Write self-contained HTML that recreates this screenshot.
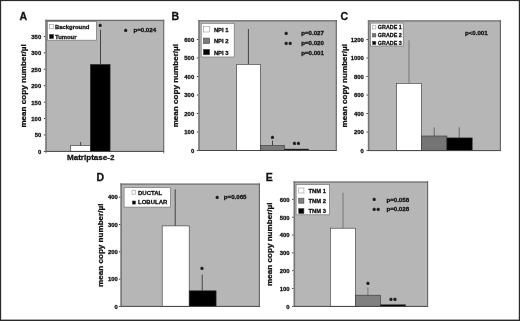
<!DOCTYPE html>
<html><head><meta charset="utf-8"><title>Figure</title>
<style>
html,body{margin:0;padding:0;background:#fff;}
svg{display:block;font-family:"Liberation Sans", sans-serif;fill:#111;}
text{stroke:#111;stroke-width:0.28px;}
</style></head><body>
<svg width="520" height="321" viewBox="0 0 520 321">
<rect x="0" y="0" width="520" height="321" fill="#fff"/>
<rect x="0" y="0" width="520" height="1.1" fill="#2a2a2a"/>
<rect x="0" y="0" width="1.15" height="321" fill="#2a2a2a"/>
<rect x="518.8" y="0" width="1.2" height="321" fill="#2a2a2a"/>
<rect x="0" y="319.6" width="520" height="1.4" fill="#2a2a2a"/>
<rect x="46" y="20.4" width="117.5" height="131.0" fill="#b6b6b6"/>
<rect x="45.2" y="19.75" width="119.05" height="1.3" fill="#6c6c6c"/>
<rect x="163.15" y="19.75" width="1.1" height="131.65" fill="#626262"/>
<rect x="45.2" y="19.75" width="1.6" height="131.65" fill="#747474"/>
<rect x="80.1" y="142" width="1" height="3.5999999999999943" fill="#444"/>
<rect x="70.7" y="145.6" width="19.599999999999994" height="5.800000000000011" fill="#fff" stroke="#333" stroke-width="0.6"/>
<rect x="100.0" y="29.7" width="1" height="34.7" fill="#444"/>
<rect x="90.3" y="64.4" width="19.799999999999997" height="87.0" fill="#000" stroke="#333" stroke-width="0.6"/>
<rect x="45.3" y="150.9" width="118.9" height="1" fill="#444"/>
<rect x="45.5" y="151.4" width="1" height="2" fill="#777"/>
<rect x="163.2" y="151.4" width="1" height="2" fill="#777"/>
<rect x="43.8" y="150.95000000000002" width="1.4" height="0.9" fill="#333"/>
<text x="41.2" y="153.924" font-size="5.9" text-anchor="end" font-weight="bold" >0</text>
<rect x="43.8" y="134.52" width="1.4" height="0.9" fill="#333"/>
<text x="41.2" y="137.494" font-size="5.9" text-anchor="end" font-weight="bold" >50</text>
<rect x="43.8" y="118.09" width="1.4" height="0.9" fill="#333"/>
<text x="41.2" y="121.06400000000001" font-size="5.9" text-anchor="end" font-weight="bold" >100</text>
<rect x="43.8" y="101.66000000000001" width="1.4" height="0.9" fill="#333"/>
<text x="41.2" y="104.63400000000001" font-size="5.9" text-anchor="end" font-weight="bold" >150</text>
<rect x="43.8" y="85.23" width="1.4" height="0.9" fill="#333"/>
<text x="41.2" y="88.20400000000001" font-size="5.9" text-anchor="end" font-weight="bold" >200</text>
<rect x="43.8" y="68.8" width="1.4" height="0.9" fill="#333"/>
<text x="41.2" y="71.774" font-size="5.9" text-anchor="end" font-weight="bold" >250</text>
<rect x="43.8" y="52.370000000000005" width="1.4" height="0.9" fill="#333"/>
<text x="41.2" y="55.34400000000001" font-size="5.9" text-anchor="end" font-weight="bold" >300</text>
<rect x="43.8" y="35.94" width="1.4" height="0.9" fill="#333"/>
<text x="41.2" y="38.914" font-size="5.9" text-anchor="end" font-weight="bold" >350</text>
<text transform="translate(25.599999999999998,85.9) rotate(-90)" font-size="8.1" text-anchor="middle" font-weight="bold">mean copy number/µl</text>
<text x="19.5" y="19.5" font-size="10.5" text-anchor="start" font-weight="bold" >A</text>
<rect x="47.4" y="21.6" width="49.00000000000001" height="18.6" fill="#fff" stroke="#747474" stroke-width="0.7"/>
<rect x="49.4" y="24.5" width="4.2" height="4.2" fill="#fff" stroke="#999" stroke-width="0.6"/>
<text x="55" y="28.6" font-size="5.9" text-anchor="start" font-weight="bold" >Background</text>
<rect x="49.4" y="34.4" width="4.2" height="4.2" fill="#000" stroke="#444" stroke-width="0.6"/>
<text x="55" y="38.6" font-size="5.9" text-anchor="start" font-weight="bold" >Tumour</text>
<text x="100.3" y="28.55" font-size="7.4" text-anchor="middle" font-weight="bold" style="stroke:#111;stroke-width:0.5px">*</text>
<text x="125.6" y="33.55" font-size="7.4" text-anchor="middle" font-weight="bold" style="stroke:#111;stroke-width:0.5px">*</text>
<text x="133.4" y="32.2" font-size="6.15" text-anchor="start" font-weight="bold">p=0.024</text>
<text x="90.7" y="160" font-size="8.05" text-anchor="middle" font-weight="bold" >Matriptase-2</text>
<rect x="199" y="20.8" width="137.10000000000002" height="129.7" fill="#b6b6b6"/>
<rect x="198.2" y="20.150000000000002" width="138.65000000000003" height="1.3" fill="#6c6c6c"/>
<rect x="335.75" y="20.150000000000002" width="1.1" height="130.35" fill="#626262"/>
<rect x="198.2" y="20.150000000000002" width="1.6" height="130.35" fill="#747474"/>
<rect x="247.9" y="29" width="1" height="35.5" fill="#444"/>
<rect x="236.7" y="64.5" width="23.69999999999999" height="86.0" fill="#fff" stroke="#333" stroke-width="0.6"/>
<rect x="272.0" y="140.6" width="1" height="4.900000000000006" fill="#444"/>
<rect x="260.4" y="145.5" width="24.100000000000023" height="5.0" fill="#7a7a7a" stroke="#333" stroke-width="0.6"/>
<rect x="284.5" y="149.1" width="24.100000000000023" height="1.4000000000000057" fill="#000" stroke="#333" stroke-width="0.6"/>
<rect x="198.3" y="150.0" width="138.50000000000003" height="1" fill="#444"/>
<rect x="196.8" y="150.05" width="1.4" height="0.9" fill="#333"/>
<text x="194.2" y="152.924" font-size="5.9" text-anchor="end" font-weight="bold" >0</text>
<rect x="196.8" y="131.55" width="1.4" height="0.9" fill="#333"/>
<text x="194.2" y="134.424" font-size="5.9" text-anchor="end" font-weight="bold" >100</text>
<rect x="196.8" y="113.05" width="1.4" height="0.9" fill="#333"/>
<text x="194.2" y="115.92399999999999" font-size="5.9" text-anchor="end" font-weight="bold" >200</text>
<rect x="196.8" y="94.55" width="1.4" height="0.9" fill="#333"/>
<text x="194.2" y="97.42399999999999" font-size="5.9" text-anchor="end" font-weight="bold" >300</text>
<rect x="196.8" y="76.05" width="1.4" height="0.9" fill="#333"/>
<text x="194.2" y="78.92399999999999" font-size="5.9" text-anchor="end" font-weight="bold" >400</text>
<rect x="196.8" y="57.55" width="1.4" height="0.9" fill="#333"/>
<text x="194.2" y="60.424" font-size="5.9" text-anchor="end" font-weight="bold" >500</text>
<rect x="196.8" y="39.05" width="1.4" height="0.9" fill="#333"/>
<text x="194.2" y="41.924" font-size="5.9" text-anchor="end" font-weight="bold" >600</text>
<text transform="translate(178.20000000000002,85.65) rotate(-90)" font-size="8.1" text-anchor="middle" font-weight="bold">mean copy number/µl</text>
<text x="171.5" y="19.6" font-size="10.5" text-anchor="start" font-weight="bold" >B</text>
<rect x="201.2" y="23.3" width="33.0" height="33.7" fill="#fff" stroke="#747474" stroke-width="0.7"/>
<rect x="203.4" y="26.6" width="6.2" height="5.4" fill="#fff" stroke="#999" stroke-width="0.6"/>
<text x="213.9" y="31.5" font-size="5.85" text-anchor="start" font-weight="bold" >NPI 1</text>
<rect x="203.4" y="38.1" width="6.2" height="5.4" fill="#7a7a7a" stroke="#444" stroke-width="0.6"/>
<text x="213.9" y="43.1" font-size="5.85" text-anchor="start" font-weight="bold" >NPI 2</text>
<rect x="203.4" y="49.4" width="6.2" height="5.4" fill="#000" stroke="#444" stroke-width="0.6"/>
<text x="213.9" y="54.6" font-size="5.85" text-anchor="start" font-weight="bold" >NPI 3</text>
<text x="272.5" y="140.75" font-size="7.4" text-anchor="middle" font-weight="bold" style="stroke:#111;stroke-width:0.5px">*</text>
<text x="294.4" y="147.35000000000002" font-size="7.4" text-anchor="middle" font-weight="bold" style="stroke:#111;stroke-width:0.5px">*</text><text x="298.4" y="147.35000000000002" font-size="7.4" text-anchor="middle" font-weight="bold" style="stroke:#111;stroke-width:0.5px">*</text>
<text x="286.25" y="37.05" font-size="7.4" text-anchor="middle" font-weight="bold" style="stroke:#111;stroke-width:0.5px">*</text>
<text x="286.25" y="46.949999999999996" font-size="7.4" text-anchor="middle" font-weight="bold" style="stroke:#111;stroke-width:0.5px">*</text><text x="290.25" y="46.949999999999996" font-size="7.4" text-anchor="middle" font-weight="bold" style="stroke:#111;stroke-width:0.5px">*</text>
<text x="301.2" y="35.3" font-size="6.15" text-anchor="start" font-weight="bold">p=0.027</text>
<text x="301.2" y="45.3" font-size="6.15" text-anchor="start" font-weight="bold">p=0.020</text>
<text x="301.2" y="55.3" font-size="6.15" text-anchor="start" font-weight="bold">p=0.001</text>
<rect x="368.6" y="20.9" width="131.59999999999997" height="129.7" fill="#b6b6b6"/>
<rect x="367.8" y="20.25" width="133.14999999999998" height="1.3" fill="#6c6c6c"/>
<rect x="499.84999999999997" y="20.25" width="1.1" height="130.35" fill="#626262"/>
<rect x="367.8" y="20.25" width="1.6" height="130.35" fill="#747474"/>
<rect x="408.5" y="40.3" width="1" height="43.0" fill="#777"/>
<rect x="396.6" y="83.3" width="24.69999999999999" height="67.3" fill="#fff" stroke="#333" stroke-width="0.6"/>
<rect x="433.7" y="127.3" width="1" height="8.700000000000003" fill="#666"/>
<rect x="421.3" y="136" width="25.599999999999966" height="14.599999999999994" fill="#757575" stroke="#333" stroke-width="0.6"/>
<rect x="458.7" y="127.3" width="1" height="10.600000000000009" fill="#666"/>
<rect x="446.9" y="137.9" width="25.30000000000001" height="12.699999999999989" fill="#000" stroke="#333" stroke-width="0.6"/>
<rect x="367.90000000000003" y="150.1" width="132.99999999999997" height="1" fill="#444"/>
<rect x="366.40000000000003" y="150.15" width="1.4" height="0.9" fill="#333"/>
<text x="363.8" y="152.92399999999998" font-size="5.9" text-anchor="end" font-weight="bold" >0</text>
<rect x="366.40000000000003" y="131.63" width="1.4" height="0.9" fill="#333"/>
<text x="363.8" y="134.40399999999997" font-size="5.9" text-anchor="end" font-weight="bold" >200</text>
<rect x="366.40000000000003" y="113.11" width="1.4" height="0.9" fill="#333"/>
<text x="363.8" y="115.884" font-size="5.9" text-anchor="end" font-weight="bold" >400</text>
<rect x="366.40000000000003" y="94.58999999999999" width="1.4" height="0.9" fill="#333"/>
<text x="363.8" y="97.36399999999999" font-size="5.9" text-anchor="end" font-weight="bold" >600</text>
<rect x="366.40000000000003" y="76.07" width="1.4" height="0.9" fill="#333"/>
<text x="363.8" y="78.844" font-size="5.9" text-anchor="end" font-weight="bold" >800</text>
<rect x="366.40000000000003" y="57.55" width="1.4" height="0.9" fill="#333"/>
<text x="363.8" y="60.324000000000005" font-size="5.9" text-anchor="end" font-weight="bold" >1000</text>
<rect x="366.40000000000003" y="39.02999999999999" width="1.4" height="0.9" fill="#333"/>
<text x="363.8" y="41.803999999999995" font-size="5.9" text-anchor="end" font-weight="bold" >1200</text>
<text transform="translate(347.09999999999997,85.75) rotate(-90)" font-size="8.1" text-anchor="middle" font-weight="bold">mean copy number/µl</text>
<text x="340.5" y="19.6" font-size="10.5" text-anchor="start" font-weight="bold" >C</text>
<rect x="370.5" y="23.1" width="32.69999999999999" height="22.9" fill="#fff" stroke="#747474" stroke-width="0.7"/>
<rect x="372.6" y="25.7" width="3.2" height="3.2" fill="#fff" stroke="#999" stroke-width="0.6"/>
<text x="377.8" y="29.1" font-size="5.4" text-anchor="start" font-weight="bold" >GRADE 1</text>
<rect x="372.6" y="33.7" width="3.2" height="3.2" fill="#7a7a7a" stroke="#444" stroke-width="0.6"/>
<text x="377.8" y="37.1" font-size="5.4" text-anchor="start" font-weight="bold" >GRADE 2</text>
<rect x="372.6" y="41.4" width="3.2" height="3.2" fill="#000" stroke="#444" stroke-width="0.6"/>
<text x="377.8" y="44.8" font-size="5.4" text-anchor="start" font-weight="bold" >GRADE 3</text>
<text x="465" y="34.6" font-size="6.15" text-anchor="start" font-weight="bold">p&lt;0.001</text>
<rect x="121.1" y="184.1" width="138.1" height="122.29999999999998" fill="#b6b6b6"/>
<rect x="120.3" y="183.45" width="139.65" height="1.3" fill="#6c6c6c"/>
<rect x="258.84999999999997" y="183.45" width="1.1" height="122.94999999999999" fill="#626262"/>
<rect x="120.3" y="183.45" width="1.6" height="122.94999999999999" fill="#747474"/>
<rect x="174.7" y="189.3" width="1" height="36.599999999999994" fill="#444"/>
<rect x="162.2" y="225.9" width="27.0" height="80.49999999999997" fill="#fff" stroke="#333" stroke-width="0.6"/>
<rect x="201.7" y="274.6" width="1" height="16.19999999999999" fill="#444"/>
<rect x="189.2" y="290.8" width="26.900000000000006" height="15.599999999999966" fill="#000" stroke="#333" stroke-width="0.6"/>
<rect x="120.39999999999999" y="305.9" width="139.5" height="1" fill="#444"/>
<rect x="118.89999999999999" y="305.95" width="1.4" height="0.9" fill="#333"/>
<text x="117.89999999999999" y="308.624" font-size="5.9" text-anchor="end" font-weight="bold" >0</text>
<rect x="118.89999999999999" y="278.65" width="1.4" height="0.9" fill="#333"/>
<text x="117.89999999999999" y="281.324" font-size="5.9" text-anchor="end" font-weight="bold" >100</text>
<rect x="118.89999999999999" y="251.35" width="1.4" height="0.9" fill="#333"/>
<text x="117.89999999999999" y="254.02399999999997" font-size="5.9" text-anchor="end" font-weight="bold" >200</text>
<rect x="118.89999999999999" y="224.04999999999998" width="1.4" height="0.9" fill="#333"/>
<text x="117.89999999999999" y="226.72399999999996" font-size="5.9" text-anchor="end" font-weight="bold" >300</text>
<rect x="118.89999999999999" y="196.75" width="1.4" height="0.9" fill="#333"/>
<text x="117.89999999999999" y="199.42399999999998" font-size="5.9" text-anchor="end" font-weight="bold" >400</text>
<text transform="translate(103.2,245.25) rotate(-90)" font-size="8.1" text-anchor="middle" font-weight="bold">mean copy number/µl</text>
<text x="96.5" y="181" font-size="10.5" text-anchor="start" font-weight="bold" >D</text>
<rect x="124.1" y="187.7" width="46.400000000000006" height="19.400000000000006" fill="#fff" stroke="#747474" stroke-width="0.7"/>
<rect x="132" y="190.6" width="3.4" height="3.6" fill="#fff" stroke="#999" stroke-width="0.6"/>
<text x="138" y="194.7" font-size="6" text-anchor="start" font-weight="bold" >DUCTAL</text>
<rect x="132.4" y="201" width="3.1" height="3.1" fill="#000" stroke="#444" stroke-width="0.6"/>
<text x="138" y="204.4" font-size="6" text-anchor="start" font-weight="bold" >LOBULAR</text>
<text x="201.9" y="272.05" font-size="7.4" text-anchor="middle" font-weight="bold" style="stroke:#111;stroke-width:0.5px">*</text>
<text x="217.3" y="200.75" font-size="7.4" text-anchor="middle" font-weight="bold" style="stroke:#111;stroke-width:0.5px">*</text>
<text x="223.8" y="199.3" font-size="6.15" text-anchor="start" font-weight="bold">p=0.065</text>
<rect x="294.3" y="182" width="133.09999999999997" height="124.39999999999998" fill="#b6b6b6"/>
<rect x="293.5" y="181.35" width="134.64999999999998" height="1.3" fill="#6c6c6c"/>
<rect x="427.04999999999995" y="181.35" width="1.1" height="125.04999999999998" fill="#626262"/>
<rect x="293.5" y="181.35" width="1.6" height="125.04999999999998" fill="#747474"/>
<rect x="342.5" y="192.7" width="1" height="35.5" fill="#777"/>
<rect x="330.4" y="228.2" width="24.900000000000034" height="78.19999999999999" fill="#fff" stroke="#333" stroke-width="0.6"/>
<rect x="367.4" y="287.5" width="1" height="7.699999999999989" fill="#777"/>
<rect x="355.3" y="295.2" width="25.099999999999966" height="11.199999999999989" fill="#808080" stroke="#333" stroke-width="0.6"/>
<rect x="380.4" y="304.8" width="25.200000000000045" height="1.599999999999966" fill="#000" stroke="#333" stroke-width="0.6"/>
<rect x="293.6" y="305.9" width="134.49999999999997" height="1" fill="#444"/>
<rect x="292.1" y="305.95" width="1.4" height="0.9" fill="#333"/>
<text x="289.5" y="308.774" font-size="5.9" text-anchor="end" font-weight="bold" >0</text>
<rect x="292.1" y="288.09999999999997" width="1.4" height="0.9" fill="#333"/>
<text x="289.5" y="290.924" font-size="5.9" text-anchor="end" font-weight="bold" >100</text>
<rect x="292.1" y="270.25" width="1.4" height="0.9" fill="#333"/>
<text x="289.5" y="273.074" font-size="5.9" text-anchor="end" font-weight="bold" >200</text>
<rect x="292.1" y="252.39999999999998" width="1.4" height="0.9" fill="#333"/>
<text x="289.5" y="255.22399999999996" font-size="5.9" text-anchor="end" font-weight="bold" >300</text>
<rect x="292.1" y="234.54999999999998" width="1.4" height="0.9" fill="#333"/>
<text x="289.5" y="237.37399999999997" font-size="5.9" text-anchor="end" font-weight="bold" >400</text>
<rect x="292.1" y="216.7" width="1.4" height="0.9" fill="#333"/>
<text x="289.5" y="219.52399999999997" font-size="5.9" text-anchor="end" font-weight="bold" >500</text>
<rect x="292.1" y="198.85" width="1.4" height="0.9" fill="#333"/>
<text x="289.5" y="201.67399999999998" font-size="5.9" text-anchor="end" font-weight="bold" >600</text>
<text transform="translate(272.09999999999997,244.2) rotate(-90)" font-size="8.1" text-anchor="middle" font-weight="bold">mean copy number/µl</text>
<text x="265.7" y="180.8" font-size="10.5" text-anchor="start" font-weight="bold" >E</text>
<rect x="296.1" y="184.6" width="33.5" height="30.200000000000017" fill="#fff" stroke="#747474" stroke-width="0.7"/>
<rect x="298.7" y="188" width="5.2" height="5" fill="#fff" stroke="#999" stroke-width="0.6"/>
<text x="308.5" y="192.7" font-size="5.8" text-anchor="start" font-weight="bold" >TNM 1</text>
<rect x="298.7" y="198.2" width="5.2" height="5" fill="#808080" stroke="#444" stroke-width="0.6"/>
<text x="308.5" y="202.9" font-size="5.8" text-anchor="start" font-weight="bold" >TNM 2</text>
<rect x="298.7" y="208.5" width="5.2" height="5" fill="#000" stroke="#444" stroke-width="0.6"/>
<text x="308.5" y="213.3" font-size="5.8" text-anchor="start" font-weight="bold" >TNM 3</text>
<text x="367.9" y="287.45" font-size="7.4" text-anchor="middle" font-weight="bold" style="stroke:#111;stroke-width:0.5px">*</text>
<text x="390.9" y="303.45" font-size="7.4" text-anchor="middle" font-weight="bold" style="stroke:#111;stroke-width:0.5px">*</text><text x="394.9" y="303.45" font-size="7.4" text-anchor="middle" font-weight="bold" style="stroke:#111;stroke-width:0.5px">*</text>
<text x="374.3" y="203.15" font-size="7.4" text-anchor="middle" font-weight="bold" style="stroke:#111;stroke-width:0.5px">*</text>
<text x="374.1" y="212.95000000000002" font-size="7.4" text-anchor="middle" font-weight="bold" style="stroke:#111;stroke-width:0.5px">*</text><text x="378.1" y="212.95000000000002" font-size="7.4" text-anchor="middle" font-weight="bold" style="stroke:#111;stroke-width:0.5px">*</text>
<text x="386.4" y="201.6" font-size="6.15" text-anchor="start" font-weight="bold">p=0.058</text>
<text x="386.4" y="211.3" font-size="6.15" text-anchor="start" font-weight="bold">p=0.028</text>
</svg>
</body></html>
